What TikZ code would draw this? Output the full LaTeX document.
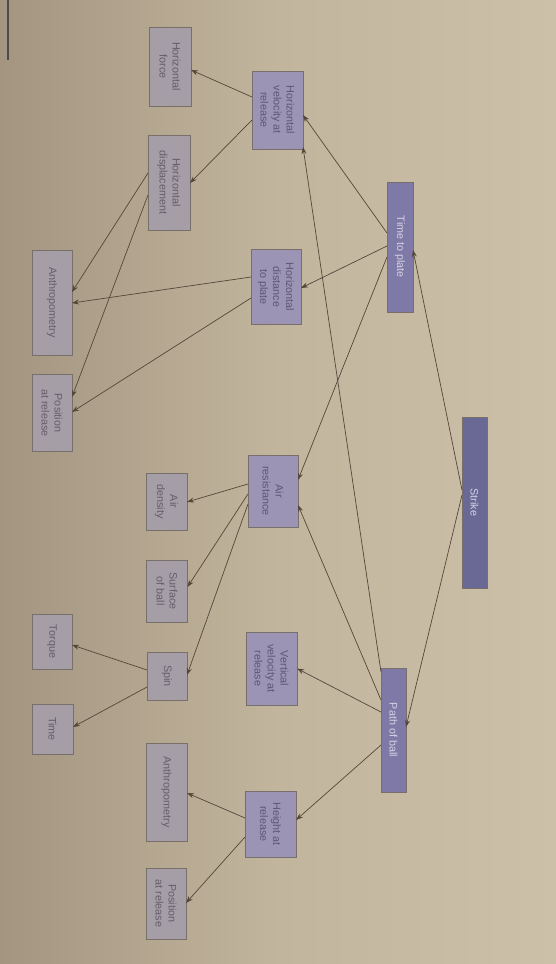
\documentclass[tikz,border=0pt]{standalone}
\usepackage{fontspec}
\setmainfont{Liberation Sans}
\usetikzlibrary{arrows.meta,calc}
\definecolor{bgL}{HTML}{A39580}
\definecolor{bgM}{HTML}{C2B59D}
\definecolor{bgR}{HTML}{CDC0A8}
\definecolor{greyfill}{HTML}{A59EA7}
\definecolor{greytext}{HTML}{655D6B}
\definecolor{lavfill}{HTML}{9B94B5}
\definecolor{lavtext}{HTML}{5C5772}
\definecolor{darkfill}{HTML}{7E79A6}
\definecolor{strikefill}{HTML}{6A6895}
\definecolor{darktext}{HTML}{D6D2E4}
\definecolor{boxline}{HTML}{786E6A}
\definecolor{linec}{HTML}{54473A}
\begin{document}
\begin{tikzpicture}[x=1pt,y=-1pt,
  box/.style={draw=boxline, line width=0.6pt, rotate=-90, inner sep=0pt, align=center,
              font=\fontsize{10.8}{13}\selectfont},
  grey/.style={box, fill=greyfill, text=greytext},
  lav/.style={box, fill=lavfill, text=lavtext},
  dark/.style={box, fill=darkfill, text=darktext},
  strk/.style={box, fill=strikefill, text=darktext},
  arr/.style={draw=linec, line width=0.7pt, -{Stealth[length=7pt,width=5pt]}}]
\shade[left color=bgL, right color=bgR, middle color=bgM] (0,0) rectangle (556,964);
\useasboundingbox (0,0) rectangle (556,964);
\draw[line width=1.6pt, black!70] (8,0) -- (8,60);

% nodes (center in image pixels; minimum width = vertical extent, minimum height = horizontal extent)
\node[grey, minimum width=79pt, minimum height=42pt] (hf) at (170,66.5) {Horizontal\\force};
\node[lav,  minimum width=78pt, minimum height=51pt] (hv) at (277.5,110) {Horizontal\\velocity at\\release};
\node[grey, minimum width=95pt, minimum height=42pt] (hd) at (169,182.5) {Horizontal\\displacement};
\node[dark, minimum width=130pt, minimum height=26pt] (tp) at (400,247) {Time to plate};
\node[lav,  minimum width=75pt, minimum height=50pt] (hdp) at (276,287) {Horizontal\\distance\\to plate};
\node[grey, minimum width=105pt, minimum height=40pt] (an1) at (52,302.5) {Anthropometry};
\node[grey, minimum width=77pt, minimum height=40pt] (pr1) at (52,413) {Position\\at release};
\node[strk, minimum width=171pt, minimum height=25pt] (st) at (474.5,502.5) {Strike};
\node[lav,  minimum width=72pt, minimum height=50pt] (ar) at (273,491) {Air\\resistance};
\node[grey, minimum width=57pt, minimum height=41pt] (ad) at (166.5,501.5) {Air\\density};
\node[grey, minimum width=62pt, minimum height=41pt] (sb) at (167,591) {Surface\\of ball};
\node[lav,  minimum width=73pt, minimum height=51pt] (vv) at (271.5,668.5) {Vertical\\velocity at\\release};
\node[grey, minimum width=55pt, minimum height=40pt] (tq) at (52,641.5) {Torque};
\node[grey, minimum width=48pt, minimum height=40pt] (sp) at (167,676) {Spin};
\node[grey, minimum width=50pt, minimum height=41pt] (tm) at (52.5,729) {Time};
\node[dark, minimum width=124pt, minimum height=25pt] (pb) at (393.5,730) {Path of ball};
\node[grey, minimum width=98pt, minimum height=41pt] (an2) at (166.5,792) {Anthropometry};
\node[lav,  minimum width=66pt, minimum height=51pt] (hr) at (270.5,824) {Height at\\release};
\node[grey, minimum width=71pt, minimum height=40pt] (pr2) at (166,903.5) {Position\\at release};

% connectors
\draw[arr] ($(st)+(-12.5,-12.5)$) -- ($(tp)+(13,3)$);
\draw[arr] ($(st)+(-12.5,-7.5)$) -- ($(pb)+(12.5,-3)$);
\draw[arr] ($(tp)+(-13,-14)$) -- ($(hv)+(25.5,5)$);
\draw[arr] ($(tp)+(-13,-1)$) -- ($(hdp)+(25,1)$);
\draw[arr] ($(tp)+(-13,10)$) -- ($(ar)+(25,-11)$);
\draw[arr] ($(pb)+(-12.5,-58)$) -- ($(hv)+(25.5,37)$);
\draw[arr] ($(pb)+(-12.5,-30)$) -- ($(ar)+(25,14)$);
\draw[arr] ($(pb)+(-12.5,-18)$) -- ($(vv)+(25.5,0)$);
\draw[arr] ($(pb)+(-12.5,15)$) -- ($(hr)+(25.5,-4)$);
\draw[arr] ($(hv)+(-25.5,-13)$) -- ($(hf)+(21,3.5)$);
\draw[arr] ($(hv)+(-25.5,10)$) -- ($(hd)+(21,0.5)$);
\draw[arr] ($(hd)+(-21,-9.5)$) -- ($(an1)+(20,-10.5)$);
\draw[arr] ($(hd)+(-21,12.5)$) -- ($(pr1)+(20,-16)$);
\draw[arr] ($(hdp)+(-25,-10)$) -- ($(an1)+(20,0.5)$);
\draw[arr] ($(hdp)+(-25,11)$) -- ($(pr1)+(20,-1)$);
\draw[arr] ($(ar)+(-25,-7)$) -- ($(ad)+(20.5,0.5)$);
\draw[arr] ($(ar)+(-25,3)$) -- ($(sb)+(20.5,-4)$);
\draw[arr] ($(ar)+(-25,13)$) -- ($(sp)+(20,-1)$);
\draw[arr] ($(sp)+(-20,-6)$) -- ($(tq)+(20,3.5)$);
\draw[arr] ($(sp)+(-20,11)$) -- ($(tm)+(20.5,-2)$);
\draw[arr] ($(hr)+(-25.5,-6)$) -- ($(an2)+(20.5,1)$);
\draw[arr] ($(hr)+(-25.5,13)$) -- ($(pr2)+(20,-0.5)$);
\end{tikzpicture}
\end{document}
